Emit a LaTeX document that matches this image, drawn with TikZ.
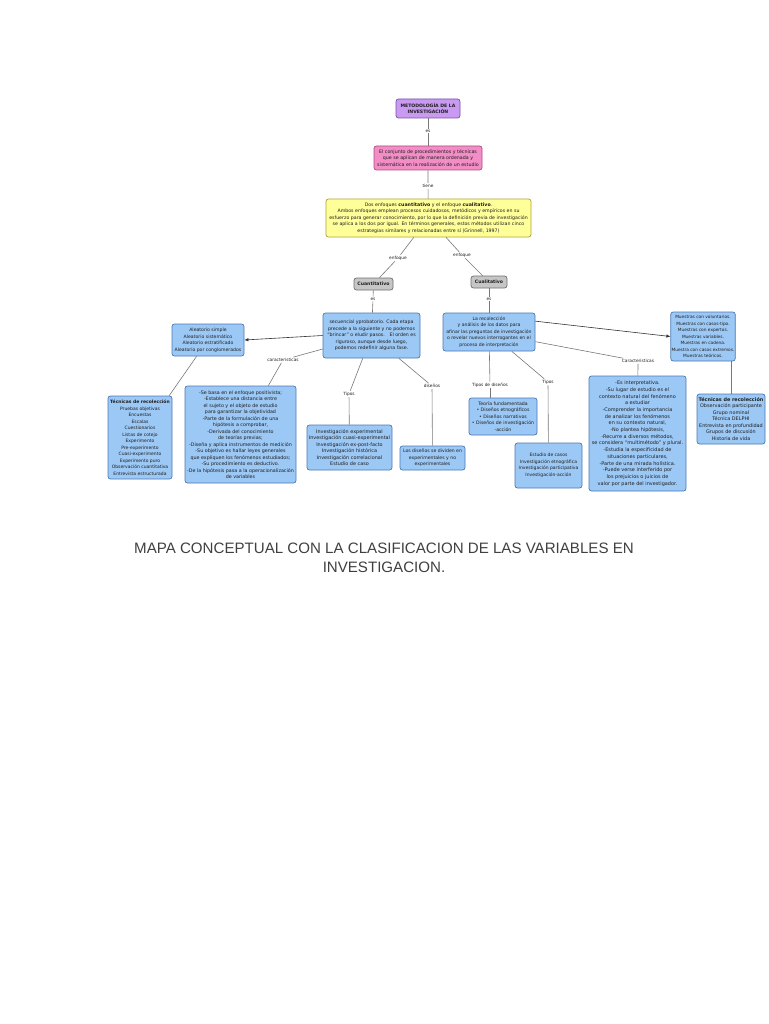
\documentclass[tikz,border=0pt]{standalone}
\usepackage{fontspec}
\usetikzlibrary{arrows.meta,calc}
\newfontfamily\boxf{DejaVu Sans}
\newfontfamily\titf{Liberation Sans}
\newcommand\bxfont{\boxf\fontsize{4.6}{6.5}\selectfont}
\newcommand\bxsize[1]{\boxf\fontsize{#1}{6.5}\selectfont}
\newcommand\lbfont{\boxf\fontsize{4.3}{5}\selectfont}
\definecolor{boxblue}{RGB}{156,200,245}
\definecolor{blueline}{RGB}{74,120,180}
\definecolor{pinkfill}{RGB}{242,141,198}
\definecolor{pinkline}{RGB}{176,74,128}
\definecolor{purplefill}{RGB}{201,154,242}
\definecolor{purpleline}{RGB}{122,79,168}
\definecolor{yellowfill}{RGB}{255,255,154}
\definecolor{yellowline}{RGB}{176,160,64}
\definecolor{grayfill}{RGB}{198,198,198}
\definecolor{grayline}{RGB}{112,112,112}
\definecolor{linegray}{RGB}{120,120,120}
\definecolor{txt}{RGB}{30,30,30}
\tikzset{
  cbox/.style={rounded corners=2.5pt, line width=0.7pt, align=center, font=\bxfont, text=txt, inner sep=0.8pt},
  bluebox/.style={cbox, fill=boxblue, draw=blueline},
  pinkbox/.style={cbox, fill=pinkfill, draw=pinkline},
  purplebox/.style={cbox, fill=purplefill, draw=purpleline},
  yellowbox/.style={cbox, fill=yellowfill, draw=yellowline},
  graybox/.style={cbox, fill=grayfill, draw=grayline},
  lbl/.style={font=\lbfont, text=txt, inner sep=1pt},
  conn/.style={draw=linegray, line width=0.6pt},
  arr/.style={draw=black!80, line width=0.6pt, -{Latex[length=4pt,width=3.5pt]}},
}
\begin{document}
\begin{tikzpicture}[x=1pt,y=-1pt]
\useasboundingbox (0,0) rectangle (768,1024);
\fill[white] (0,0) rectangle (768,1024);

% boxes
\node[purplebox, minimum width=64pt, minimum height=19pt] (met) at (428,108.5) {\textbf{METODOLOGÍA DE LA}\\\textbf{INVESTIGACIÓN}};
\node[pinkbox, minimum width=108pt, minimum height=24pt, font=\bxsize{4.75}] (conj) at (428,158) {El conjunto de procedimientos y técnicas\\que se aplican de manera ordenada y\\sistemática en la realización de un estudio};
\node[yellowbox, minimum width=205pt, minimum height=38pt, font=\bxsize{4.7}] (dos) at (428.5,218) {Dos enfoques \textbf{cuantitativo} y el enfoque \textbf{cualitativo}.\\Ambos enfoques emplean procesos cuidadosos, metódicos y empíricos en su\\esfuerzo para generar conocimiento, por lo que la definición previa de investigación\\se aplica a los dos por igual. En términos generales, estos métodos utilizan cinco\\estrategias similares y relacionadas entre sí (Grinnell, 1997)};
\node[graybox, minimum width=39pt, minimum height=12pt] (cuant) at (373.5,284) {\textbf{Cuantitativo}};
\node[graybox, minimum width=36pt, minimum height=12pt] (cual) at (489,282) {\textbf{Cualitativo}};
\node[bluebox, minimum width=97pt, minimum height=45pt, font=\bxsize{4.7}] (quant) at (371.5,335.5) {secuencial yprobatorio. Cada etapa\\precede a la siguiente y no podemos\\“brincar” o eludir pasos.\quad El orden es\\riguroso, aunque desde luego,\\podemos redefinir alguna fase.};
\node[bluebox, minimum width=92pt, minimum height=38pt] (qual) at (489,332) {La recolección\\y análisis de los datos para\\afinar las preguntas de investigación\\o revelar nuevos interrogantes en el\\proceso de interpretación};
\node[bluebox, minimum width=72pt, minimum height=32pt] (ale) at (208,340) {Aleatorio simple\\Aleatorio sistemático\\Aleatorio estratificado\\Aleatorio por conglomerados};
\node[bluebox, minimum width=64pt, minimum height=83pt, font=\bxsize{4.5}] (tecl) at (140,437.5) {\textbf{Técnicas de recolección}\\Pruebas objetivas\\Encuestas\\Escalas\\Cuestionarios\\Listas de cotejo\\Experimento\\Pre-experimento\\Cuasi-experimento\\Experimento puro\\Observación cuantitativa\\Entrevista estructurada};
\node[bluebox, minimum width=111pt, minimum height=97pt, font=\bxsize{4.8}] (pos) at (240.5,434.5) {-Se basa en el enfoque positivista;\\-Establece una distancia entre\\el sujeto y el objeto de estudio\\para garantizar la objetividad\\-Parte de la formulación de una\\hipótesis a comprobar,\\-Derivada del conocimiento\\de teorías previas;\\-Diseña y aplica instrumentos de medición\\-Su objetivo es hallar leyes generales\\que expliquen los fenómenos estudiados;\\-Su procedimiento es deductivo.\\-De la hipótesis pasa a la operacionalización\\de variables};
\node[bluebox, minimum width=85pt, minimum height=45pt, font=\bxsize{4.9}] (inv) at (349.5,447.5) {Investigación experimental\\Investigación cuasi-experimental\\Investigación ex-post-facto\\Investigación histórica\\Investigación correlacional\\Estudio de caso};
\node[bluebox, minimum width=65pt, minimum height=24pt] (dise) at (432.5,458) {Los diseños se dividen en\\experimentales y no\\experimentales};
\node[bluebox, minimum width=68pt, minimum height=37pt, font=\bxsize{4.65}] (teo) at (503,416.5) {Teoría fundamentada\\• Diseños etnográficos\\• Diseños narrativos\\• Diseños de investigación\\-acción};
\node[bluebox, minimum width=67pt, minimum height=45pt, font=\bxsize{4.5}] (est) at (548.5,465.5) {Estudio de casos\\Investigación etnográfica\\Investigación participativa\\Investigación-acción};
\node[bluebox, minimum width=64pt, minimum height=49pt, font=\bxsize{4.3}] (mue) at (703,336.5) {Muestras con voluntarios.\\Muestras con casos-tipo.\\Muestras con expertos.\\Muestras variables.\\Muestras en cadena.\\Muestra con casos extremos.\\Muestras teóricos.};
\node[bluebox, minimum width=97pt, minimum height=115pt, font=\boxf\fontsize{4.95}{6.7}\selectfont] (int) at (637.5,433.5) {-Es interpretativa.\\-Su lugar de estudio es el\\contexto natural del fenómeno\\a estudiar\\-Comprender la importancia\\de analizar los fenómenos\\en su contexto natural,\\-No plantea hipótesis,\\-Recurre a diversos métodos,\\se considera “multimétodo” y plural.\\-Estudia la especificidad de\\situaciones particulares,\\-Parte de una mirada holística.\\-Puede verse interferido por\\los prejuicios o juicios de\\valor por parte del investigador.};
\node[bluebox, minimum width=68pt, minimum height=50pt, font=\bxsize{4.9}] (tecr) at (731,419) {\textbf{Técnicas de recolección}\\Observación participante\\Grupo nominal\\Técnica DELPHI\\Entrevista en profundidad\\Grupos de discusión\\Historia de vida};

% labels
\node[lbl] (es1) at (428,131) {es};
\node[lbl] (tiene) at (428,186) {tiene};
\node[lbl] (enf1) at (398,258) {enfoque};
\node[lbl] (enf2) at (462,255) {enfoque};
\node[lbl] (es2) at (373,299) {es};
\node[lbl] (es3) at (489,299) {es};
\node[lbl] (car1) at (283,360) {caracteristicas};
\node[lbl] (tip1) at (349,394) {Tipos};
\node[lbl] (dis1) at (432,386) {diseños};
\node[lbl] (tipd) at (490,385) {Tipos de diseños};
\node[lbl] (tip2) at (548,382) {Tipos};
\node[lbl] (car2) at (638,361) {Caracteristicas};

% connectors
\draw[conn] (met) -- (es1) -- (conj);
\draw[conn] (conj) -- (tiene) -- (dos);
\draw[conn] (dos) -- (enf1) -- (cuant);
\draw[conn] (dos) -- (enf2) -- (cual);
\draw[conn] (cuant) -- (es2) -- (quant);
\draw[conn] (cual) -- (es3) -- (qual);
\draw[arr] (quant.west) -- (ale.east);
\draw[conn] (ale) -- (tecl);
\draw[conn] (quant) -- (car1) -- (pos);
\draw[conn] (quant) -- (tip1) -- (inv);
\draw[conn] (quant) -- (dis1) -- (dise);
\draw[conn] (qual) -- (tipd);
\draw[conn] (tipd) -- (tipd |- teo.north);
\draw[conn] (qual) -- (tip2) -- (est);
\draw[arr] ($(qual.north east)!0.22!(qual.south east)$) -- (mue.west);
\draw[conn] ($(qual.north east)!0.75!(qual.south east)$) -- (car2) -- (int);
\draw[conn] (tecr.north |- mue.south) -- (tecr.north);

% title
\node[font=\titf\fontsize{15.1}{19}\selectfont, text=black!75, align=center] (title) at (384,558) {MAPA CONCEPTUAL CON LA CLASIFICACION DE LAS VARIABLES EN\\INVESTIGACION.};
\end{tikzpicture}
\end{document}
